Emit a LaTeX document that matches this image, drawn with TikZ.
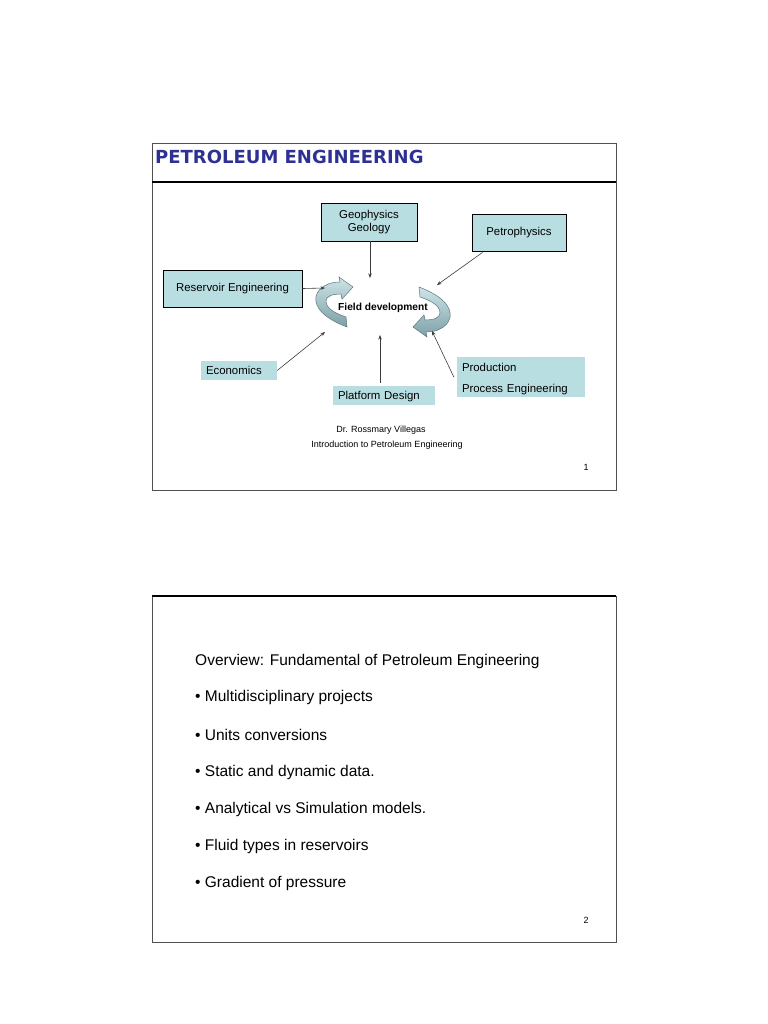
\documentclass[tikz,border=0pt]{standalone}
\usepackage{fontspec}
\setmainfont{Liberation Sans}
\newfontfamily\titlefont{DejaVu Sans}
\usetikzlibrary{arrows.meta,calc}
\definecolor{boxfill}{RGB}{185,222,225}
\definecolor{titleblue}{RGB}{46,49,146}
\definecolor{framegray}{RGB}{80,80,80}
\definecolor{connc}{RGB}{60,60,60}
\definecolor{ribbonlight}{RGB}{205,229,232}
\definecolor{ribbondark}{RGB}{125,160,166}
\definecolor{ribbonedge}{RGB}{90,120,126}
\begin{document}
\begin{tikzpicture}[x=1bp,y=-1bp,
  boxtext/.style={font=\fontsize{11.4bp}{13bp}\selectfont},
  box/.style={boxtext, fill=boxfill, draw=black, line width=0.8bp, align=center, inner sep=0pt},
  plainbox/.style={boxtext, fill=boxfill, inner ysep=0pt, inner xsep=5bp, align=left},
  conn/.style={draw=connc, line width=0.6bp, -{Stealth[length=4.5bp,width=3.5bp]}},
  bodytext/.style={anchor=west, inner sep=0pt, font=\fontsize{15.5bp}{18bp}\selectfont},
  smalltext/.style={inner sep=0pt, font=\fontsize{9bp}{11bp}\selectfont},
  ribbon/.style={draw=ribbonedge, line width=0.5bp, top color=ribbonlight, bottom color=ribbondark},
  frame/.style={draw=framegray, line width=1bp}
]
\useasboundingbox (0,0) rectangle (768,1024);

% ---------- slide 1 ----------
\draw[frame] (152,143) rectangle (616,490);
\draw[black, line width=2bp] (152,182) -- (616,182);
\node[anchor=west, inner sep=0pt, text=titleblue, font=\titlefont\bfseries\fontsize{18bp}{20bp}\selectfont] (title) at (155,157) {PETROLEUM ENGINEERING};

\node[box, minimum width=96bp, minimum height=38bp] (geo) at (369,222) {Geophysics\\Geology};
\node[box, minimum width=94bp, minimum height=37bp] (petro) at (519,232.5) {Petrophysics};
\node[box, minimum width=139bp, minimum height=37bp] (res) at (232.5,288.5) {Reservoir Engineering};
\node[plainbox, text width=66bp, minimum height=19bp] (econ) at (239,370.5) {Economics};
\node[plainbox, text width=92bp, minimum height=19bp, text depth=1bp] (plat) at (384,395.5) {Platform Design};
\node[plainbox, text width=118bp, minimum height=40bp, font=\fontsize{11.4bp}{21bp}\selectfont] (prod) at (521,377) {\rule{0pt}{12.3bp}Production\\Process Engineering};

% circular arrows
\path[ribbon] (340,282) .. controls (322,282) and (312,294) .. (317,305)
  .. controls (321,315) and (334,322) .. (347,327) -- (346,317)
  .. controls (334,313) and (326,308) .. (326,301)
  .. controls (326,296) and (333,294) .. (341,294)
  -- (342,299) -- (353,287) -- (339,277) -- cycle;
\node[inner sep=0pt, font=\bfseries\fontsize{10.2bp}{12bp}\selectfont] (fd) at (383,308) {Field development};
\begin{scope}[rotate around={180:(383,307)}]
\path[ribbon] (340,282) .. controls (322,282) and (312,294) .. (317,305)
  .. controls (321,315) and (334,322) .. (347,327) -- (346,317)
  .. controls (334,313) and (326,308) .. (326,301)
  .. controls (326,296) and (333,294) .. (341,294)
  -- (342,299) -- (353,287) -- (339,277) -- cycle;
\end{scope}

% connector ends
\coordinate (eGeo) at (370,278);
\coordinate (ePetro) at (437,285);
\coordinate (eRes) at (325,288);
\coordinate (eEcon) at (325,332);
\coordinate (ePlat) at (380,335);
\coordinate (eProd) at (432,331);

\draw[conn] (geo.south) ++(1,0) -- (eGeo);
\draw[conn] (petro.south west) ++(11,1) -- (ePetro);
\draw[conn] (res.east) -- (eRes);
\draw[conn] (econ.east) -- (eEcon);
\draw[conn] (plat.north) ++(-4,-3) -- (ePlat);
\draw[conn] (prod.west) ++(-3,0) -- (eProd);

\node[smalltext] (author) at (381,430) {Dr. Rossmary Villegas};
\node[smalltext] (course) at (387,445.5) {Introduction to Petroleum Engineering};
\node[smalltext] (p1) at (586,467) {1};

% ---------- slide 2 ----------
\draw[frame] (152,596) rectangle (616,942);
\draw[black, line width=2bp] (152,596) -- (616,596);
\node[bodytext] (ov) at (195,661) {Overview: Fundamental of Petroleum Engineering};
\node[bodytext] (b1) at (195,697.5) {• Multidisciplinary projects};
\node[bodytext] (b2) at (195,734.5) {• Units conversions};
\node[bodytext] (b3) at (195,772) {• Static and dynamic data.};
\node[bodytext] (b4) at (195,809.5) {• Analytical vs Simulation models.};
\node[bodytext] (b5) at (195,846.5) {• Fluid types in reservoirs};
\node[bodytext] (b6) at (195,883) {• Gradient of pressure};
\node[smalltext] (p2) at (586,920) {2};
\end{tikzpicture}
\end{document}
